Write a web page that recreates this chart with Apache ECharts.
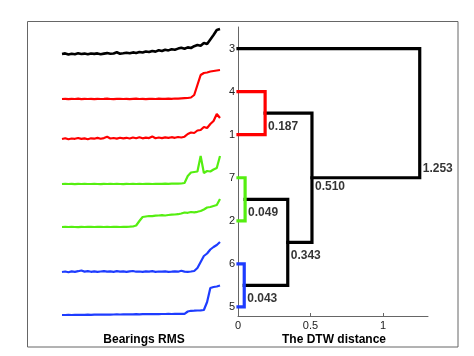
<!DOCTYPE html>
<html>
<head>
<meta charset="utf-8">
<script src="https://cdn.jsdelivr.net/npm/echarts@6/dist/echarts.min.js"></script>
<style>html,body{margin:0;padding:0;background:#fff;}#c{width:474px;height:356px;}</style>
</head>
<body>
<div id="c"></div>
<script>
// ---- Bearing RMS curves (rise above each curve's baseline), top to bottom: 3,4,1,7,2,6,5
const rms3 = [0,0.6,-0.4,0.3,-0.2,0.7,0,0.4,-0.3,0.5, 0.1,0.6,-0.2,0.4,0.9,0.2,0.5,1.8,0.3,0.7, 1.2,0.7,1.6,1.0,2.0,1.5,2.6,1.9,3.0,2.4, 3.8,3.0,4.3,3.6,4.8,4.2,5.4,6.2,5.2,6.6, 6.0,7.8,9.0,8.2,11.0,10.0,14.5,19.0,24.0,25.0];
const rms4 = [0,0.2,-0.2,0.1,0,0.3,-0.1,0.2,0,0.1, -0.2,0.2,0,0.1,0.3,0,-0.1,0.2,0.1,0, 0.2,-0.1,0.1,0.3,0,0.2,-0.1,0.1,0.2,0, 0.3,0.1,0.2,0.4,0.2,0.5,0.4,0.6,0.8,1.0, 1.5,4.0,14.0,24.0,26.0,26.5,27.5,28.0,28.5,29.0];
const rms1 = [0,0.8,-0.3,0.5,0.2,1.0,0.1,0.6,-0.2,0.7, 0.3,1.1,0.2,0.9,2.2,0.5,1.0,0.4,1.3,0.6, 1.2,0.5,1.5,0.8,1.8,0.7,1.3,0.9,2.4,0.8, 1.5,0.9,1.6,1.1,1.8,1.2,2.0,1.5,2.3,5.0, 6.5,6.0,8.5,9.0,12.0,11.0,15.0,18.0,25.0,21.0];
const rms7 = [0,0.2,0,0.1,-0.1,0.1,0,0.2,0,0, 0.1,0,-0.1,0.1,0,0.2,0,0.1,0,-0.1, 0.1,0,0.2,0,0.1,0,0.1,0.2,0,0.1, 0.2,0.1,0.3,0.2,0.3,0.4,0.3,0.5,1.0,8.0, 11.5,12.0,12.5,28.0,11.0,13.0,12.5,14.5,16.0,28.0];
const rms2 = [0,0.1,0,0.2,0,-0.1,0.1,0,0.2,0.1, 0,0.1,0.2,0,0.1,0,0.2,0.1,0,0.1, 0.2,0.3,0.5,1.5,6.0,10.0,10.5,11.0,10.8,11.3, 11.5,11.8,11.5,12.0,12.3,12.5,12.8,13.5,14.5,14.2, 15.0,14.7,15.2,16.0,17.5,19.5,20.0,21.0,22.0,28.0];
const rms6 = [0,0.5,-0.3,0.6,0.2,0.8,1.5,0.4,0.9,0.2, 0.7,0.1,0.5,0.9,0.3,0.6,0.2,0.8,0.4,0.6, 0.2,0.7,1.0,0.3,0.5,0.1,0.6,0.4,0.8,0.2, 0.5,0.3,0.6,0.2,0.4,0.7,0.3,1.2,0.4,0.2, 0.5,1.0,4.0,10.0,16.0,18.5,22.5,25.0,27.0,30.0];
const rms5 = [0,0,0.1,0,0.1,0.2,0.1,0.2,0.3,0.2, 0.3,0.4,0.3,0.4,0.5,0.4,0.5,0.6,0.5,0.6, 0.7,0.6,0.7,0.8,0.7,0.8,0.9,0.8,0.9,1.0, 0.9,1.0,1.0,1.1,1.0,1.1,1.2,1.1,1.2,3.5, 4.2,4.3,4.5,4.6,5.0,13.0,27.0,28.0,28.5,29.5];

// ---- Dendrogram
const leafOrder = ['5','6','2','7','1','4','3'];            // bottom -> top
const linkName  = ['c1','c2','c3','c4','c5','c6'];
const linkLeft  = ['6','7','4','c2','c3','3'];
const linkRight = ['5','2','1','c1','c4','c5'];
const linkDist  = [0.043, 0.049, 0.187, 0.343, 0.510, 1.253];
const linkLabel = ['0.043','0.049','0.187','0.343','0.510','1.253'];
const xTicks    = [0, 0.5, 1];

// ---- styling / layout
const FONT = 'Liberation Sans, Arial, Helvetica, sans-serif';
const curveRows = [
  {data: rms3, color: '#000000', w: 2.6},
  {data: rms4, color: '#ff0000', w: 2.2},
  {data: rms1, color: '#ff0000', w: 2.2},
  {data: rms7, color: '#55ee11', w: 2.2},
  {data: rms2, color: '#55ee11', w: 2.2},
  {data: rms6, color: '#1e3cff', w: 2.2},
  {data: rms5, color: '#1e3cff', w: 2.2}
];
const baselines = [54, 99, 139, 184, 227, 272, 315];
const clusterColor = {c1: '#1e3cff', c2: '#55ee11', c3: '#ff0000'};
const labelDy = {c1: 13.5, c2: 13, c3: 13.5, c4: 13.5, c5: 9, c6: 55.5};

const grids = [], xAxes = [], yAxes = [], series = [];
curveRows.forEach((row, r) => {
  grids.push({left: 62, width: 158, top: baselines[r] - 35, height: 43});
  xAxes.push({type: 'value', gridIndex: r, min: 0, max: row.data.length - 1, show: false});
  yAxes.push({type: 'value', gridIndex: r, min: -8, max: 35, show: false});
  series.push({
    type: 'line', xAxisIndex: r, yAxisIndex: r, showSymbol: false, silent: true,
    data: row.data.map((v, i) => [i, v]),
    lineStyle: {color: row.color, width: row.w}
  });
});

const D = curveRows.length;
grids.push({left: 238, top: 27, width: 190, height: 289});
xAxes.push({
  type: 'value', gridIndex: D, min: 0, max: 1.31, interval: 0.5,
  axisLine: {show: true, lineStyle: {color: '#666', width: 1}},
  axisTick: {show: true, inside: true, length: 3, customValues: xTicks, lineStyle: {color: '#666'}},
  axisLabel: {customValues: xTicks, color: '#222', fontSize: 11, fontFamily: FONT, margin: 4},
  splitLine: {show: false}
});
yAxes.push({
  type: 'value', gridIndex: D, min: 0.79, max: 7.5,
  axisLine: {show: true, lineStyle: {color: '#666', width: 1}},
  axisTick: {show: false},
  axisLabel: {customValues: leafOrder.map((_, i) => i + 1), formatter: v => leafOrder[Math.round(v) - 1],
              color: '#222', fontSize: 11, fontFamily: FONT, margin: 3},
  splitLine: {show: false}
});

const pos = {}, hgt = {};
leafOrder.forEach((k, i) => { pos[k] = i + 1; hgt[k] = 0; });
linkName.forEach((n, i) => {
  pos[n] = (pos[linkLeft[i]] + pos[linkRight[i]]) / 2;
  hgt[n] = linkDist[i];
});
linkName.forEach((n, i) => {
  const a = linkLeft[i], b = linkRight[i], d = linkDist[i];
  series.push({
    type: 'line', xAxisIndex: D, yAxisIndex: D, showSymbol: false, silent: true,
    data: [[hgt[a], pos[a]], [d, pos[a]], [d, pos[b]], [hgt[b], pos[b]]],
    lineStyle: {color: clusterColor[n] || '#000', width: 3.2, cap: 'square', join: 'miter'},
    z: clusterColor[n] ? 3 : 2
  });
});
series.push({
  type: 'scatter', xAxisIndex: D, yAxisIndex: D, symbolSize: 0, silent: true,
  data: linkName.map((n, i) => ({
    value: [linkDist[i], pos[n]],
    label: {show: true, position: [3, labelDy[n]], align: 'left', verticalAlign: 'middle',
            formatter: linkLabel[i], color: '#000', fontSize: 12, fontWeight: 'bold', fontFamily: FONT}
  })),
  z: 5
});

const chart = echarts.init(document.getElementById('c'), null, {renderer: 'canvas'});
chart.setOption({
  animation: false,
  backgroundColor: '#fff',
  grid: grids, xAxis: xAxes, yAxis: yAxes, series: series,
  graphic: [
    {type: 'rect', shape: {x: 27.5, y: 21.5, width: 430.5, height: 325.5},
     style: {fill: 'none', stroke: '#666', lineWidth: 1}, silent: true, z: 0},
    {type: 'text', x: 144, y: 340, style: {text: 'Bearings RMS', font: 'bold 12px ' + FONT, fill: '#000', textAlign: 'center', textVerticalAlign: 'middle'}},
    {type: 'text', x: 334, y: 340, style: {text: 'The DTW distance', font: 'bold 12px ' + FONT, fill: '#000', textAlign: 'center', textVerticalAlign: 'middle'}}
  ]
});
</script>
</body>
</html>
